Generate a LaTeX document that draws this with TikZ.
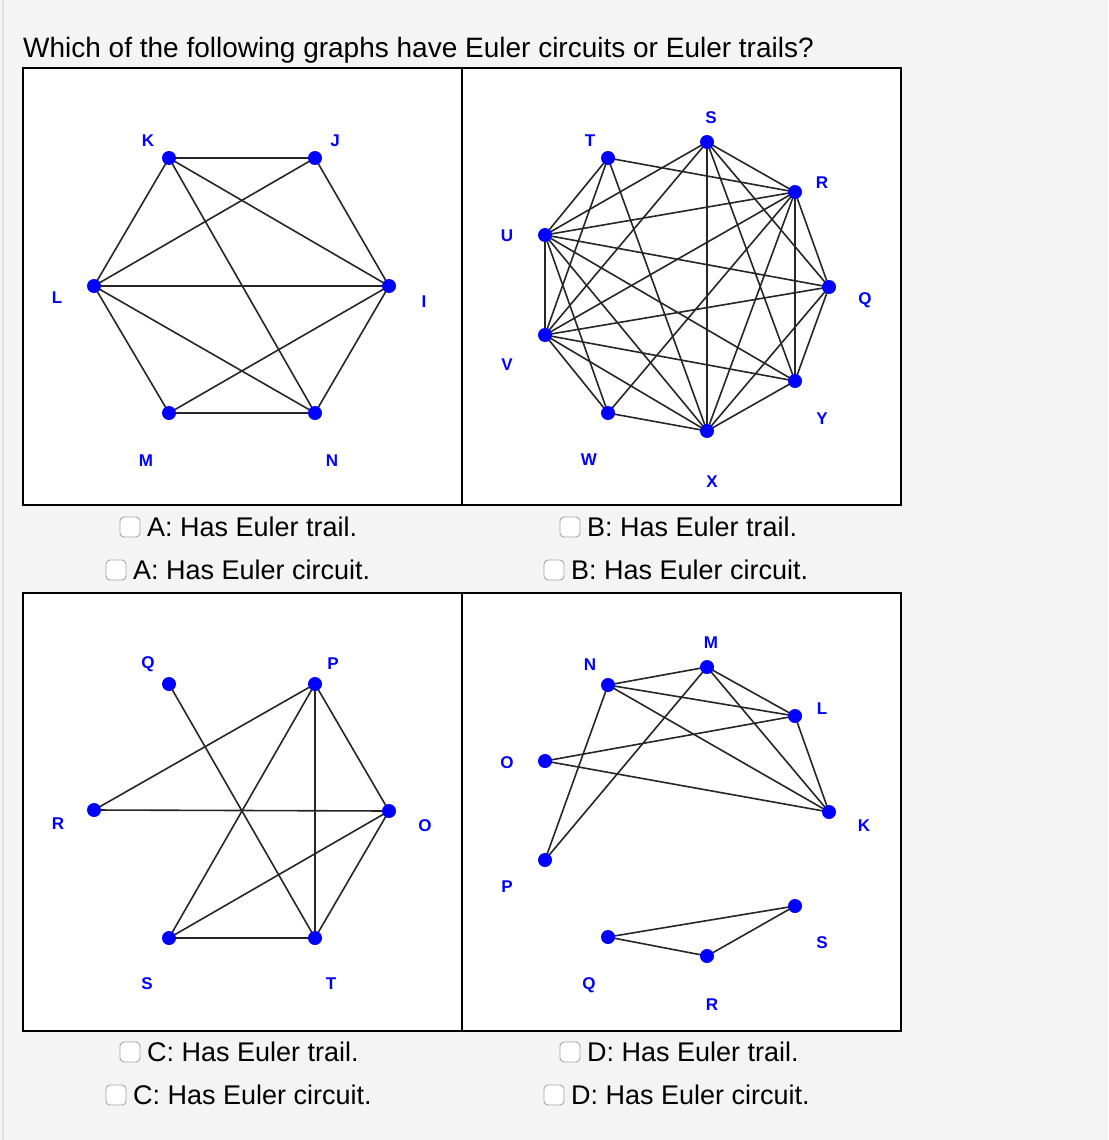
\documentclass[tikz,border=0pt]{standalone}
\usepackage{fontspec}
\setmainfont{Liberation Sans}
\definecolor{bg}{HTML}{F4F4F4}
\definecolor{vb}{RGB}{0,0,255}
\begin{document}
\begin{tikzpicture}[x=1pt,y=-1pt,
  vtx/.style={circle,fill=vb,inner sep=0pt,minimum size=14pt},
  vlab/.style={text=vb,font=\fontsize{17}{17}\selectfont\bfseries,inner sep=0pt},
  edge/.style={draw=black!85,line width=1.6pt},
  panel/.style={draw=black,line width=1.5pt,fill=white},
  cbox/.style={draw=black!35,line width=0.9pt,fill=white,rounded corners=4pt,minimum size=20pt,inner sep=0pt},
  opt/.style={anchor=west,inner sep=0pt,font=\fontsize{27}{27}\selectfont}]
\useasboundingbox (0,0) rectangle (1108,1140);
\fill[bg] (0,0) rectangle (1108,1140);
\draw[black!12,line width=1.5pt] (3,0) -- (3,1140);
\node[anchor=base west,inner sep=0pt,font=\fontsize{28}{28}\selectfont] (title) at (23,57) {Which of the following graphs have Euler circuits or Euler trails?};
\draw[panel] (23,68) rectangle (462,505);
\draw[panel] (462,68) rectangle (901,505);
\draw[panel] (23,593) rectangle (462,1031);
\draw[panel] (462,593) rectangle (901,1031);
% ---- Graph A
\foreach \n/\x/\y in {aK/169/158,aJ/315/158,aL/94/286,aI/389/286,aM/169/413,aN/315/413}
  \coordinate (\n) at (\x,\y);
\foreach \a/\b in {aK/aJ,aK/aL,aK/aI,aK/aN,aJ/aL,aJ/aI,aL/aI,aL/aM,aL/aN,aI/aM,aI/aN,aM/aN}
  \draw[edge] (\a) -- (\b);
\foreach \n in {aK,aJ,aL,aI,aM,aN} \node[vtx] (\n v) at (\n) {};
\foreach \t/\x/\y in {K/148/141,J/335/141,L/57/298,I/424/302,M/146/461,N/332/461}
  \node[vlab] (aL\t) at (\x,\y) {\t};
% ---- Graph B
\foreach \n/\x/\y in {bS/707/142,bR/795/192,bQ/829/287,bY/795/381,bX/707/431,bW/608/413,bV/545/335,bU/545/235,bT/608/158}
  \coordinate (\n) at (\x,\y);
\foreach \a/\b in {bS/bU,bS/bV,bS/bX,bS/bY,bS/bQ,bS/bR,
  bT/bR,bT/bU,bT/bV,bT/bX,
  bU/bR,bU/bQ,bU/bY,bU/bX,bU/bW,bU/bV,
  bV/bR,bV/bQ,bV/bY,bV/bX,bV/bW,
  bW/bR,bW/bX,
  bX/bY,bX/bQ,bX/bR,
  bY/bR,bY/bQ,bQ/bR}
  \draw[edge] (\a) -- (\b);
\foreach \n in {bS,bR,bQ,bY,bX,bW,bV,bU,bT} \node[vtx] (\n v) at (\n) {};
\foreach \t/\x/\y in {S/711/118,T/590/141,R/822/183,U/507/236,Q/865/300,V/507/365,Y/822/419,W/589/460,X/712/482}
  \node[vlab] (bL\t) at (\x,\y) {\t};
% ---- Graph C
\foreach \n/\x/\y in {cQ/169/684,cP/315/684,cR/94/810,cO/389/811,cS/169/938,cT/315/938}
  \coordinate (\n) at (\x,\y);
\foreach \a/\b in {cQ/cT,cR/cP,cR/cO,cP/cS,cP/cT,cP/cO,cS/cO,cS/cT,cO/cT}
  \draw[edge] (\a) -- (\b);
\foreach \n in {cQ,cP,cR,cO,cS,cT} \node[vtx] (\n v) at (\n) {};
\foreach \t/\x/\y in {Q/148/664,P/333/664,R/58/824,O/425/826,S/147/984,T/331/984}
  \node[vlab] (cL\t) at (\x,\y) {\t};
% ---- Graph D
\foreach \n/\x/\y in {dN/608/685,dM/707/667,dL/795/716,dO/545/761,dK/829/812,dP/545/860,dS/795/906,dQ/608/937,dR/707/956}
  \coordinate (\n) at (\x,\y);
\foreach \a/\b in {dN/dM,dN/dL,dN/dK,dN/dP,dM/dL,dM/dK,dM/dP,dL/dO,dL/dK,dO/dK,dQ/dS,dQ/dR,dR/dS}
  \draw[edge] (\a) -- (\b);
\foreach \n in {dN,dM,dL,dO,dK,dP,dS,dQ,dR} \node[vtx] (\n v) at (\n) {};
\foreach \t/\x/\y in {M/711/643,N/590/665,L/822/709,O/507/763,K/864/826,P/507/887,S/822/943,Q/589/985,R/712/1005}
  \node[vlab] (dL\t) at (\x,\y) {\t};
% ---- options
\foreach \id/\cx/\cy/\txt in {oa1/130/527/{A: Has Euler trail.},oa2/116/570/{A: Has Euler circuit.},
  ob1/570/527/{B: Has Euler trail.},ob2/554/570/{B: Has Euler circuit.},
  oc1/130/1052/{C: Has Euler trail.},oc2/116/1095/{C: Has Euler circuit.},
  od1/570/1052/{D: Has Euler trail.},od2/554/1095/{D: Has Euler circuit.}}{
  \node[cbox] (\id b) at (\cx,\cy) {};
  \node[opt] (\id t) at (\cx+17,\cy) {\txt};
}
\end{tikzpicture}
\end{document}
